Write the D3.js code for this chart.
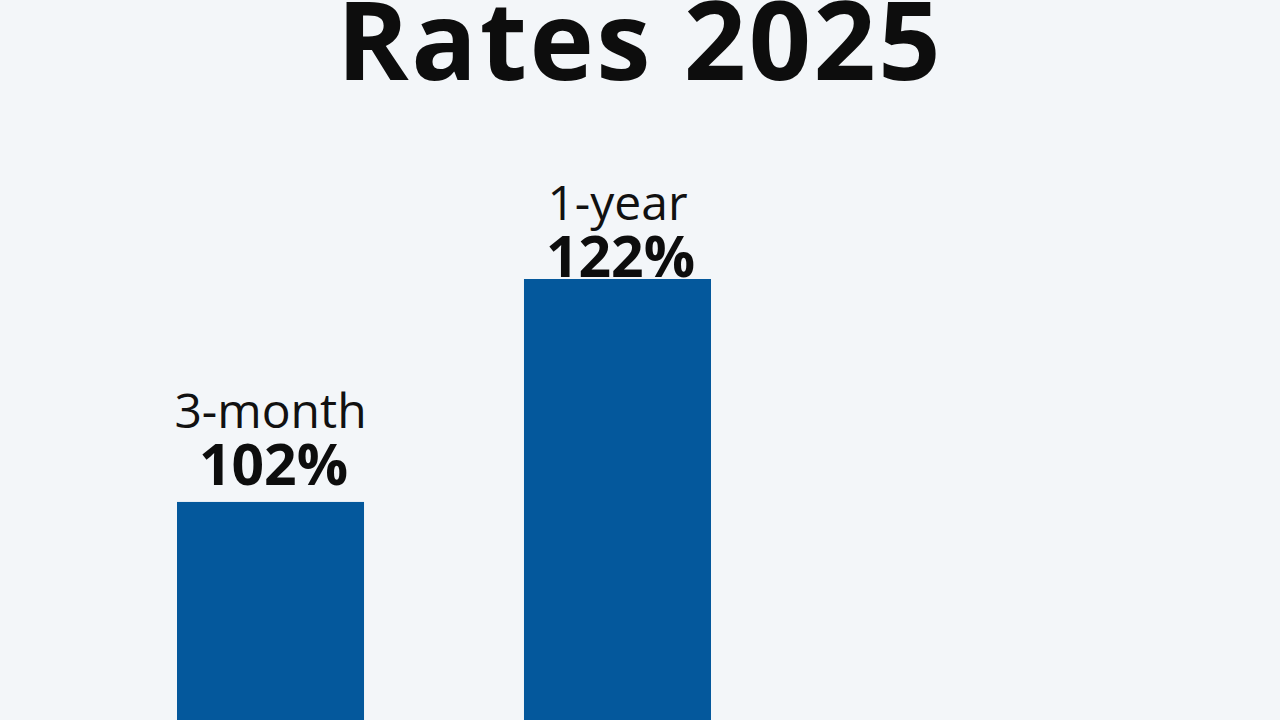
<!DOCTYPE html>
<html>
<head>
<meta charset="utf-8">
<script src="https://cdn.jsdelivr.net/npm/d3@7"></script>
<style>
  html, body { margin: 0; padding: 0; background: #f3f6f9; }
  svg { display: block; }
</style>
</head>
<body>
<div id="chart"></div>
<script>
const title = "Rates 2025";
const categories = ["3-month", "1-year"];
const values = [102, 122];
const valueLabels = ["102%", "122%"];

const W = 1280, H = 720;
const svg = d3.select("#chart").append("svg")
  .attr("width", W).attr("height", H)
  .style("background", "#f3f6f9");

svg.append("rect").attr("width", W).attr("height", H).attr("fill", "#f3f6f9");

const x = d3.scaleBand()
  .domain(categories)
  .range([177, 711])
  .paddingInner(0.461)
  .paddingOuter(0);

const y = d3.scaleLinear()
  .domain([0, 122])
  .range([1639, 279]);

const font = "'Open Sans', 'Noto Sans', sans-serif";

svg.append("text")
  .attr("x", 640).attr("y", 80)
  .attr("text-anchor", "middle")
  .attr("font-family", font)
  .attr("font-weight", 700)
  .attr("font-size", 109)
  .attr("letter-spacing", 2.5)
  .attr("fill", "#0d0d0d")
  .text(title);

const data = categories.map((c, i) => ({ c, v: values[i], lab: valueLabels[i], i }));
const valueGap = [17, 2];

svg.selectAll("rect.bar").data(data).join("rect")
  .attr("class", "bar")
  .attr("x", d => x(d.c))
  .attr("y", d => y(d.v))
  .attr("width", x.bandwidth())
  .attr("height", d => y(0) - y(d.v))
  .attr("fill", "#04589c");

svg.selectAll("text.val").data(data).join("text")
  .attr("class", "val")
  .attr("x", d => x(d.c) + x.bandwidth() / 2 + 3)
  .attr("y", d => y(d.v) - valueGap[d.i])
  .attr("text-anchor", "middle")
  .attr("font-family", font)
  .attr("font-weight", 700)
  .attr("font-size", 57)
  .attr("fill", "#0d0d0d")
  .text(d => d.lab);

svg.selectAll("text.cat").data(data).join("text")
  .attr("class", "cat")
  .attr("x", d => x(d.c) + x.bandwidth() / 2)
  .attr("y", d => y(d.v) - valueGap[d.i] - 57)
  .attr("text-anchor", "middle")
  .attr("font-family", font)
  .attr("font-weight", 400)
  .attr("font-size", 48)
  .attr("fill", "#111")
  .text(d => d.c);
</script>
</body>
</html>
